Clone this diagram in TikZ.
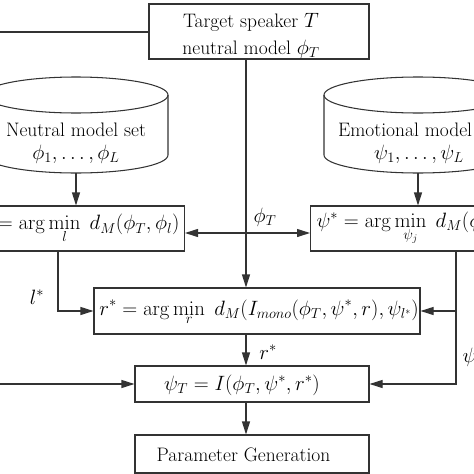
\documentclass[tikz,border=0pt]{standalone}
\usetikzlibrary{arrows.meta}
\begin{document}
\begin{tikzpicture}[x=1pt,y=-1pt,
  line width=1.05pt, color=black!80,
  box/.style={draw=black!80, line width=1.05pt, inner sep=0pt, text=black},
  txt/.style={inner sep=0pt, align=center, text=black},
  arr/.style={-{Triangle[length=13pt,width=8pt]}},
  darr/.style={{Triangle[length=13pt,width=8pt]}-{Triangle[length=13pt,width=8pt]}},
  font=\fontsize{19.5}{23}\selectfont]
\useasboundingbox (0,0) rectangle (474,474);
\clip (0,0) rectangle (474,474);
\coordinate (vx) at (246,0);
% target
\node[box, minimum width=220pt, minimum height=55pt] (target) at (259,31.5) {};
\node[txt] (targettxt) at (251,35.5) {Target speaker $T$\\[4pt] neutral model $\phi_T$};
% cylinders
\draw (76,95) ellipse [x radius=92pt, y radius=18pt];
\draw (-16,95) -- (-16,155) arc[start angle=180,end angle=360,x radius=92pt,y radius=18pt] -- (168,95);
\node[txt] (ncyl) at (76,143) {Neutral model set\\ $\phi_1,\ldots,\phi_L$};
\coordinate (nbot) at (76,173);
\draw (418,95) ellipse [x radius=94pt, y radius=18pt];
\draw (324,95) -- (324,155) arc[start angle=180,end angle=360,x radius=94pt,y radius=18pt] -- (512,95);
\node[txt] (ecyl) at (419,143) {Emotional model set\\ $\psi_1,\ldots,\psi_L$};
\coordinate (ebot) at (418,173);
% argmin boxes
\node[box, minimum height=45pt, anchor=east, inner xsep=5pt] (lstar) at (185,228.5) {$\displaystyle l^* = \arg\min_l\; d_M(\phi_T,\phi_l)$};
\node[box, minimum height=45pt, anchor=west, inner xsep=6pt] (psistar) at (310,228.5) {$\displaystyle \psi^* = \arg\min_{\psi_j}\; d_M(\phi_T,\psi_j)$};
\node[box, minimum width=326pt, minimum height=46pt] (rstar) at (257,311) {};
\node[txt] (rstartxt) at (259,312) {$\displaystyle r^* = \arg\min_r\; d_M(I_{mono}(\phi_T,\psi^*,r),\psi_{l^*})$};
% interpolation and generation
\node[box, minimum width=234pt, minimum height=36pt] (psiT) at (252,384) {};
\node[txt] (psiTtxt) at (242,385) {$\psi_T = I(\phi_T,\psi^*,r^*)$};
\node[box, minimum width=234pt, minimum height=38pt] (param) at (252,454) {};
\node[txt] (paramtxt) at (243.5,455) {Parameter Generation};
% connectors
\coordinate (ltop) at (0,32);
\draw (ltop) -- (ltop -| target.west);
\draw[arr] (target.south -| vx) -- (rstar.north -| vx);
\draw[arr] (nbot) -- (nbot |- lstar.north);
\draw[arr] (ebot) -- (ebot |- psistar.north);
\coordinate (hy) at (0,233);
\draw[darr] (hy -| lstar.east) -- (hy -| psistar.west);
\node[txt] (phiTlbl) at (265,217) {$\phi_T$};
\coordinate (lx) at (58,0);
\draw[arr] (lstar.south -| lx) |- (rstar.west);
\node[txt] (llbl) at (37,297) {$l^*$};
\coordinate (rx) at (456,0);
\draw[arr] (psistar.south -| rx) |- (psiT.east);
\draw[arr] (rstar.east -| rx) -- (rstar.east);
\node[txt, anchor=west] (psilbl) at (462,357) {$\psi^*$};
\draw[arr] (rstar.south -| vx) -- (psiT.north -| vx);
\node[txt] (rlbl) at (268,352) {$r^*$};
\coordinate (lbot) at (0,384);
\draw[arr] (lbot) -- (psiT.west);
\draw[arr] (psiT.south -| vx) -- (param.north -| vx);
\end{tikzpicture}
\end{document}
